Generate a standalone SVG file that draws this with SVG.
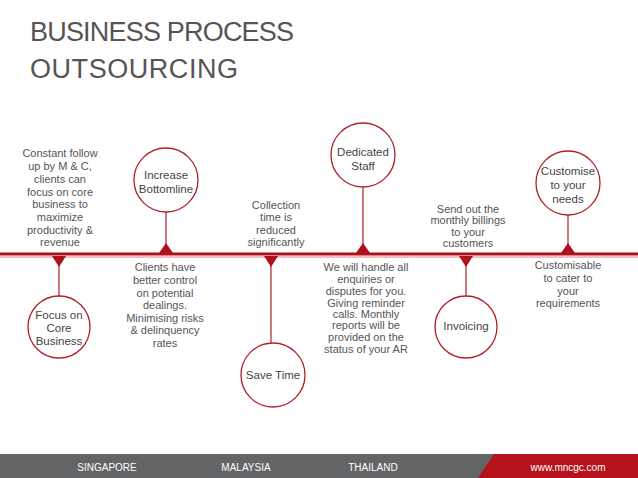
<svg xmlns="http://www.w3.org/2000/svg" width="638" height="478" viewBox="0 0 638 478">
<style>
.t{font-family:"Liberation Sans",Arial,sans-serif;font-size:11px;fill:#555;text-anchor:middle}
.n{font-family:"Liberation Sans",Arial,sans-serif;font-size:11.5px;fill:#444;text-anchor:middle}
.c{fill:#fff;stroke:#b0202a;stroke-width:1.3}
.l{stroke:#b0202a;stroke-width:1.2}
.tri{fill:#b0101c}
.f{font-family:"Liberation Sans",Arial,sans-serif;font-size:10px;fill:#fff;text-anchor:middle}
</style>
<rect width="638" height="478" fill="#fff"/>
<text x="30" y="41" font-family="Liberation Sans,Arial,sans-serif" font-size="27" fill="#555" textLength="264">BUSINESS  PROCESS</text>
<text x="30" y="78" font-family="Liberation Sans,Arial,sans-serif" font-size="27" fill="#555" textLength="208">OUTSOURCING</text>
<g id="connectors">
<line x1="0" y1="254" x2="638" y2="254" stroke="#b0101c" stroke-width="3"/>
<line x1="0" y1="257" x2="638" y2="257" stroke="#e08080" stroke-width="1"/>
<line class="l" x1="59" y1="256" x2="59" y2="296"/>
<line class="l" x1="166" y1="212" x2="166" y2="254"/>
<line class="l" x1="271" y1="256" x2="271" y2="343"/>
<line class="l" x1="363" y1="187" x2="363" y2="254"/>
<line class="l" x1="466" y1="256" x2="466" y2="296"/>
<line class="l" x1="568" y1="215" x2="568" y2="254"/>
<polygon class="tri" points="52,256 66,256 59,267"/>
<polygon class="tri" points="264,256 278,256 271,267"/>
<polygon class="tri" points="459,256 473,256 466,267"/>
<polygon class="tri" points="159,253 173,253 166,243"/>
<polygon class="tri" points="356,253 370,253 363,243"/>
<polygon class="tri" points="561,253 575,253 568,243"/>
</g>
<g id="focus"><circle class="c" cx="59" cy="327" r="31"/><text class="n" x="59" y="319">Focus on</text><text class="n" x="59" y="332">Core</text><text class="n" x="59" y="345">Business</text>
<text class="t" x="60" y="157">Constant follow</text><text class="t" x="60" y="170">up by M &amp; C,</text><text class="t" x="60" y="183">clients can</text><text class="t" x="60" y="196">focus on core</text><text class="t" x="60" y="208">business to</text><text class="t" x="60" y="221">maximize</text><text class="t" x="60" y="234">productivity &amp;</text><text class="t" x="60" y="246">revenue</text></g>
<g id="bottomline"><circle class="c" cx="166" cy="180" r="32"/><text class="n" x="166" y="179">Increase</text><text class="n" x="166" y="193">Bottomline</text>
<text class="t" x="165" y="271">Clients have</text><text class="t" x="165" y="284">better control</text><text class="t" x="165" y="297">on potential</text><text class="t" x="165" y="309">dealings.</text><text class="t" x="165" y="322">Minimising risks</text><text class="t" x="165" y="334">&amp; delinquency</text><text class="t" x="165" y="347">rates</text></g>
<g id="savetime"><circle class="c" cx="273" cy="375" r="32"/><text class="n" x="273" y="379">Save Time</text>
<text class="t" x="276" y="209">Collection</text><text class="t" x="276" y="221">time is</text><text class="t" x="276" y="234">reduced</text><text class="t" x="276" y="246">significantly</text></g>
<g id="staff"><circle class="c" cx="363" cy="155" r="32"/><text class="n" x="363" y="156">Dedicated</text><text class="n" x="363" y="170">Staff</text>
<text class="t" x="366" y="271">We will handle all</text><text class="t" x="366" y="283">enquiries or</text><text class="t" x="366" y="295">disputes for you.</text><text class="t" x="366" y="307">Giving reminder</text><text class="t" x="366" y="318">calls. Monthly</text><text class="t" x="366" y="329">reports will be</text><text class="t" x="366" y="341">provided on the</text><text class="t" x="366" y="353">status of your AR</text></g>
<g id="invoicing"><circle class="c" cx="466" cy="327" r="31"/><text class="n" x="466" y="330">Invoicing</text>
<text class="t" x="468" y="213">Send out the</text><text class="t" x="468" y="224">monthly billings</text><text class="t" x="468" y="236">to your</text><text class="t" x="468" y="247">customers</text></g>
<g id="customise"><circle class="c" cx="568" cy="183" r="32"/><text class="n" x="568" y="175">Customise</text><text class="n" x="568" y="189">to your</text><text class="n" x="568" y="203">needs</text>
<text class="t" x="568" y="269">Customisable</text><text class="t" x="568" y="282">to cater to</text><text class="t" x="568" y="295">your</text><text class="t" x="568" y="307">requirements</text></g>
<g id="footer">
<rect x="0" y="454" width="638" height="24" fill="#636466"/>
<polygon points="494,454 638,454 638,478 478,478" fill="#b5121b"/>
<text class="f" x="107" y="471">SINGAPORE</text><text class="f" x="246" y="471">MALAYSIA</text><text class="f" x="373" y="471">THAILAND</text><text class="f" x="568" y="471">www.mncgc.com</text>
</g>
</svg>
